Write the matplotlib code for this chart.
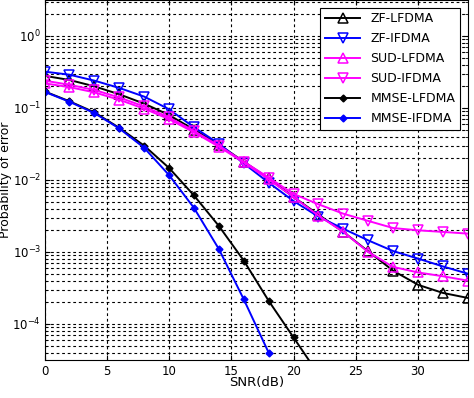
import numpy as np
import matplotlib
matplotlib.use("Agg")
import matplotlib.pyplot as plt
from matplotlib.ticker import LogLocator, NullFormatter

snr = [0, 2, 4, 6, 8, 10, 12, 14, 16, 18, 20, 22, 24, 26, 28, 30, 32, 34]
zf_lfdma = [0.28, 0.245, 0.2, 0.155, 0.115, 0.08, 0.05, 0.031, 0.018, 0.0105, 0.0058,
            0.0033, 0.0019, 0.00102, 0.00055, 0.00035, 0.00027, 0.00023]
zf_ifdma = [0.32, 0.29, 0.24, 0.19, 0.144, 0.096, 0.054, 0.032, 0.017, 0.0092, 0.0051,
            0.0031, 0.0021, 0.00145, 0.00103, 0.00081, 0.00063, 0.0005]
sud_lfdma = [0.22, 0.195, 0.165, 0.13, 0.098, 0.07, 0.046, 0.029, 0.0175, 0.0102, 0.0058,
             0.0032, 0.0019, 0.001, 0.00062, 0.00052, 0.00046, 0.0004]
sud_ifdma = [0.24, 0.21, 0.178, 0.14, 0.105, 0.074, 0.048, 0.03, 0.018, 0.0108, 0.0064,
             0.0046, 0.0034, 0.0027, 0.00215, 0.002, 0.0019, 0.0018]
snr_mmse_l = [0, 2, 4, 6, 8, 10, 12, 14, 16, 18, 20, 22]
mmse_lfdma = [0.17, 0.124, 0.087, 0.053, 0.03, 0.0147, 0.0061, 0.0023, 0.00076, 0.00021,
              6.5e-5, 2.0e-5]
snr_mmse_i = [0, 2, 4, 6, 8, 10, 12, 14, 16, 18]
mmse_ifdma = [0.168, 0.122, 0.085, 0.052, 0.028, 0.0117, 0.0041, 0.0011, 0.00022, 4.0e-5]

labels = ["ZF-LFDMA", "ZF-IFDMA", "SUD-LFDMA", "SUD-IFDMA", "MMSE-LFDMA", "MMSE-IFDMA"]

fig = plt.figure(figsize=(4.74, 3.98), dpi=100)
ax = fig.add_axes([0.094, 0.0955, 0.893, 0.9045])

mag = (1, 0, 1)
lw = 1.4
ax.semilogy(snr, zf_lfdma, color="k", lw=lw, marker="^", ms=7, mfc="none", mew=1.1, label=labels[0])
ax.semilogy(snr, zf_ifdma, color="b", lw=lw, marker="v", ms=7, mfc="none", mew=1.1, label=labels[1])
ax.semilogy(snr, sud_lfdma, color=mag, lw=lw, marker="^", ms=7, mfc="none", mew=1.1, label=labels[2])
ax.semilogy(snr, sud_ifdma, color=mag, lw=lw, marker="v", ms=7, mfc="none", mew=1.1, label=labels[3])
ax.semilogy(snr_mmse_l, mmse_lfdma, color="k", lw=lw, marker="D", ms=3.5, label=labels[4])
ax.semilogy(snr_mmse_i, mmse_ifdma, color="b", lw=lw, marker="D", ms=3.5, label=labels[5])

ax.set_xlim(0, 34)
ax.set_ylim(10 ** -4.5, 10 ** 0.5)
ax.set_xticks([0, 5, 10, 15, 20, 25, 30])
ax.yaxis.set_major_locator(LogLocator(base=10, numticks=10))
ax.yaxis.set_minor_locator(LogLocator(base=10, subs=np.arange(2, 10), numticks=20))
ax.yaxis.set_minor_formatter(NullFormatter())

ax.grid(True, which="major", color="k", linestyle=(0, (2.5, 2.5)), linewidth=0.8)
ax.grid(True, which="minor", axis="y", color="k", linestyle=(0, (2.5, 2.5)), linewidth=0.8)
ax.tick_params(which="both", direction="in", labelsize=8.5, top=True, right=True)
ax.tick_params(axis="y", which="major", pad=2.5)
ax.tick_params(which="minor", length=2)

ax.set_xlabel("SNR(dB)", fontsize=9.5)
ax.set_ylabel("Probability of error", fontsize=9)
ax.xaxis.set_label_coords(0.5, -0.045)
ax.yaxis.set_label_coords(-0.077, 0.5)

leg = ax.legend(loc="upper right", fontsize=9, fancybox=False, framealpha=1,
                edgecolor="k", borderaxespad=0.6, handlelength=2.8, labelspacing=0.55)
leg.get_frame().set_linewidth(0.8)

fig.savefig("out.png", dpi=100)
